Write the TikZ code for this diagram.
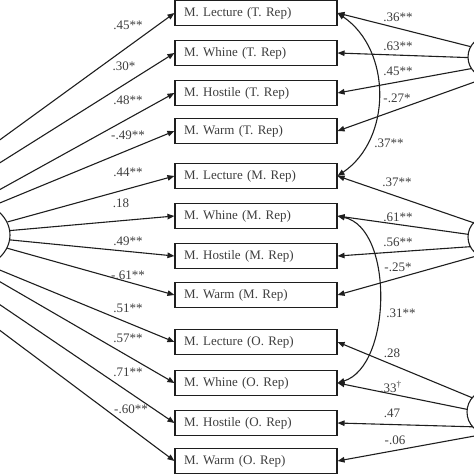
\documentclass[tikz,border=0pt]{standalone}
\usepackage{fontspec}
\setmainfont{Liberation Serif}
\usetikzlibrary{arrows.meta,shapes.geometric,backgrounds}
\definecolor{ink}{RGB}{30,30,30}
\definecolor{txt}{RGB}{62,62,62}
\begin{document}
\begin{tikzpicture}[x=1pt,y=-1pt,
  obs/.style={draw=ink, line width=1.1pt, fill=white, minimum width=162pt, minimum height=25pt,
    text width=144pt, inner xsep=9pt, inner ysep=0pt, align=left,
    font=\fontsize{13}{15}\selectfont, text=txt},
  lat/.style={draw=ink, line width=1.1pt, fill=white, inner sep=0pt},
  pth/.style={draw=ink, line width=1.1pt, -{Triangle[length=7pt,width=5.5pt]}},
  cov/.style={draw=ink, line width=1.1pt, {Triangle[length=7pt,width=5.5pt]}-{Triangle[length=7pt,width=5.5pt]}},
  lab/.style={font=\fontsize{13}{15}\selectfont, text=txt, inner sep=0pt}]
\useasboundingbox (0,0) rectangle (474,474);

% observed boxes
\node[obs] (b1)  at (256,13)  {M. Lecture (T. Rep)};
\node[obs] (b2)  at (256,53)  {M. Whine (T. Rep)};
\node[obs] (b3)  at (256,93)  {M. Hostile (T. Rep)};
\node[obs] (b4)  at (256,131) {M. Warm (T. Rep)};
\node[obs] (b5)  at (256,176) {M. Lecture (M. Rep)};
\node[obs] (b6)  at (256,216) {M. Whine (M. Rep)};
\node[obs] (b7)  at (256,256) {M. Hostile (M. Rep)};
\node[obs] (b8)  at (256,295) {M. Warm (M. Rep)};
\node[obs] (b9)  at (256,342) {M. Lecture (O. Rep)};
\node[obs] (b10) at (256,383) {M. Whine (O. Rep)};
\node[obs] (b11) at (256,423) {M. Hostile (O. Rep)};
\node[obs] (b12) at (256,461) {M. Warm (O. Rep)};

% latent variables
\node[lat, ellipse, minimum width=100pt, minimum height=74pt] (L) at (-40,235) {};
\node[lat, circle, minimum size=42pt] (T) at (489,57) {};
\node[lat, circle, minimum size=42pt] (M) at (489,237) {};
\node[lat, circle, minimum size=44pt] (O) at (489,412) {};

% free ends of the left paths
\coordinate (s1) at (-10,147);
\coordinate (s2) at (-10,169);
\coordinate (s3) at (-10,195);
\coordinate (s4) at (-10,207);
\coordinate (s9) at (-10,266);
\coordinate (s10) at (-10,276);
\coordinate (s11) at (-10,298);
\coordinate (s12) at (-10,323);
% free ends of the right paths
\coordinate (t1) at (480,49);
\coordinate (t2) at (480,58);
\coordinate (t3) at (480,67);
\coordinate (t4) at (480,80);
\coordinate (t5) at (480,225);
\coordinate (t6) at (480,236);
\coordinate (t7) at (480,246);
\coordinate (t8) at (480,255);
\coordinate (t9) at (480,401);
\coordinate (t10) at (480,412);
\coordinate (t11) at (480,427);
\coordinate (t12) at (480,435);

\begin{scope}[on background layer]
\draw[pth] (s1) -- (b1.west);
\draw[pth] (s2) -- (b2.west);
\draw[pth] (s3) -- (b3.west);
\draw[pth] (s4) -- (b4.west);
\draw[pth] (L) -- (b5.west);
\draw[pth] (L) -- (b6.west);
\draw[pth] (L) -- (b7.west);
\draw[pth] (L) -- (b8.west);
\draw[pth] (s9) -- (b9.west);
\draw[pth] (s10) -- (b10.west);
\draw[pth] (s11) -- (b11.west);
\draw[pth] (s12) -- (b12.west);

\draw[pth] (t1) -- (b1.east);
\draw[pth] (t2) -- (b2.east);
\draw[pth] (t3) -- (b3.east);
\draw[pth] (t4) -- (b4.east);
\draw[pth] (t5) -- (b5.east);
\draw[pth] (t6) -- (b6.east);
\draw[pth] (t7) -- (b7.east);
\draw[pth] (t8) -- (b8.east);
\draw[pth] (t9) -- (b9.east);
\draw[pth] (t10) -- (b10.east);
\draw[pth] (t11) -- (b11.east);
\draw[pth] (t12) -- (b12.east);
\end{scope}

% covariances
\draw[cov] (b1.east) .. controls (392,50) and (392,139) .. (b5.east);
\draw[cov] (b6.east) .. controls (394,228) and (392,366) .. (b10.east);

% left labels
\node[lab] (l1)  at (128,25)  {.45**};
\node[lab] (l2)  at (124,66)  {.30*};
\node[lab] (l3)  at (128,100) {.48**};
\node[lab] (l4)  at (128,135) {-.49**};
\node[lab] (l5)  at (128,172) {.44**};
\node[lab] (l6)  at (121,203) {.18};
\node[lab] (l7)  at (128,241) {.49**};
\node[lab] (l8)  at (128,275) {-.61**};
\node[lab] (l9)  at (128,308) {.51**};
\node[lab] (l10) at (128,338) {.57**};
\node[lab] (l11) at (128,372) {.71**};
\node[lab] (l12) at (131,409) {-.60**};

% right labels
\node[lab] (r1)  at (398,17)  {.36**};
\node[lab] (r2)  at (398,46)  {.63**};
\node[lab] (r3)  at (398,71)  {.45**};
\node[lab] (r4)  at (397,98)  {-.27*};
\node[lab] (r5)  at (397,182) {.37**};
\node[lab] (r6)  at (398,217) {.61**};
\node[lab] (r7)  at (398,242) {.56**};
\node[lab] (r8)  at (398,267) {-.25*};
\node[lab] (r9)  at (392,353) {.28};
\node[lab] (r10) at (391,387) {.33\textsuperscript{†}};
\node[lab] (r11) at (392,413) {.47};
\node[lab] (r12) at (395,440) {-.06};

% covariance labels
\node[lab] (c1) at (389,143) {.37**};
\node[lab] (c2) at (401,313) {.31**};
\end{tikzpicture}
\end{document}
